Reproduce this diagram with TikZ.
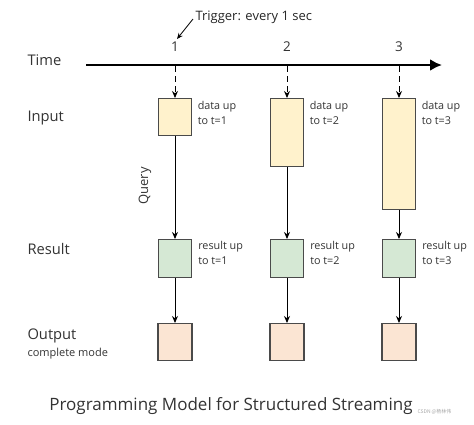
\documentclass[tikz,border=0pt]{standalone}
\usepackage{fontspec}
\setmainfont{Open Sans}
\newfontfamily\cjk{Noto Sans CJK SC}
\usetikzlibrary{arrows.meta,positioning}

\definecolor{inputfill}{HTML}{FFF2CC}
\definecolor{resultfill}{HTML}{D5E8D4}
\definecolor{outputfill}{HTML}{FBE5D3}
\definecolor{boxline}{HTML}{4A4A4A}

\begin{document}
\begin{tikzpicture}[x=1pt,y=-1pt,
  rowlabel/.style={anchor=west,font=\fontsize{14.7}{17}\selectfont,text=black!80},
  small/.style={anchor=north west,align=left,font=\fontsize{10.8}{15}\selectfont,text=black!80,inner sep=0pt},
  stage/.style={draw=boxline,line width=1.1pt,minimum width=33pt,inner sep=0pt,anchor=north},
  flow/.style={-{Stealth[length=7pt,width=6pt]},line width=1pt}]

\useasboundingbox (0,0) rectangle (474,424);

% row labels
\node[rowlabel] (time) at (24,60) {Time};
\node[rowlabel] (input) at (24,118) {Input};
\node[rowlabel] (result) at (24,249) {Result};
\node[rowlabel] (output) at (24,336) {Output};
\node[anchor=west,font=\fontsize{11}{13}\selectfont,text=black!80] (mode) at (24,354) {complete mode};

% time axis
\coordinate (t0) at (86,65);
\coordinate (tend) at (442,65);
\draw[line width=2.4pt,-{Latex[length=12pt,width=12pt]}] (t0) -- (tend);

% trigger
\node[anchor=west,font=\fontsize{13}{15}\selectfont,text=black!85] (trig) at (192,17) {Trigger: every 1 sec};
\coordinate (trigtip) at (177,39);
\draw[-{Stealth[length=6pt,width=5pt]},line width=0.8pt] (trig.west) ++(1,2) -- (trigtip);

% columns
\foreach \i/\x/\h in {1/175/37, 2/287/68, 3/399/111} {
  \node[font=\fontsize{13.5}{15}\selectfont,text=black!80] (tick\i) at (\x,47) {\i};
  \coordinate (axis\i) at (\x,66);
  \node[stage,fill=inputfill,minimum height=\h pt] (in\i) at (\x,98) {};
  \node[stage,fill=resultfill,minimum height=38pt] (res\i) at (\x,239) {};
  \node[stage,fill=outputfill,minimum height=37pt,minimum width=34pt] (out\i) at (\x,323) {};
  \draw[flow,dashed,dash pattern=on 6pt off 4pt] (axis\i) -- (in\i.north);
  \draw[flow] (in\i.south) -- (res\i.north);
  \draw[flow] (res\i.south) -- (out\i.north);
  \node[small] (inlab\i) at ([xshift=5.5pt,yshift=-3pt]in\i.north east) {data up\\to t=\i};
  \node[small] (reslab\i) at ([xshift=6pt,yshift=-2pt]res\i.north east) {result up\\to t=\i};
}

\node[rotate=90,font=\fontsize{13}{15}\selectfont,text=black!80] (query) at (145,186) {Query};

% title
\node[font=\fontsize{17}{20}\selectfont,text=black!80] (title) at (231,406) {Programming Model for Structured Streaming};
\node[anchor=west,font=\cjk\fontsize{5}{6}\selectfont,text=black!35] (mark) at (414,412) {CSDN @杨林伟};

\end{tikzpicture}
\end{document}
